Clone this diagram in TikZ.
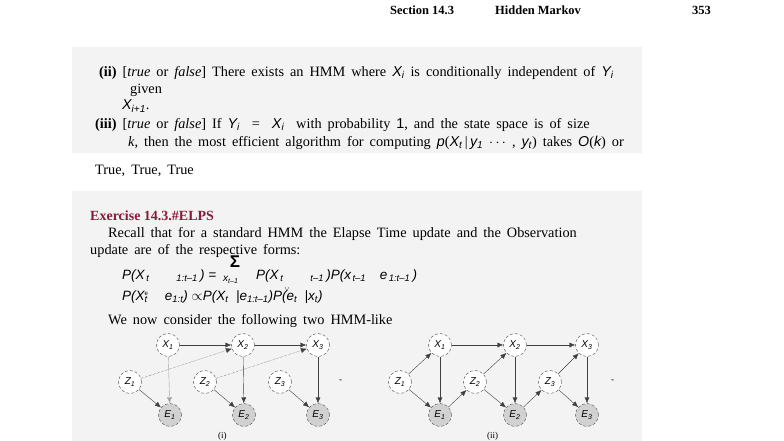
\documentclass[tikz,border=0pt]{standalone}
\usepackage{fontspec}
\setmainfont{Liberation Serif}
\newfontfamily\ms{Liberation Sans}
\usetikzlibrary{arrows.meta}
\definecolor{band}{HTML}{F3F3F3}
\definecolor{exc}{HTML}{8B1A3A}
\newcommand\wsp{\spaceskip=6pt plus 1pt\relax}
\begin{document}
\begin{tikzpicture}[x=1pt,y=-1pt,
  txt/.style={anchor=west,inner sep=0,font=\fontsize{14.3}{16}\selectfont\wsp},
  mth/.style={anchor=west,inner sep=0,font=\fontsize{13.5}{15}\ms\itshape},
  hmm/.style={circle,draw=black!70,densely dashed,fill=white,minimum size=23pt,inner sep=0,font=\fontsize{10}{11}\ms\itshape},
  ev/.style={hmm,fill=black!18},
  arr/.style={-{Latex[length=6pt,width=5pt]},black!75,thin},
  lt/.style={arr,black!35},
  dt/.style={arr,densely dotted}]
\useasboundingbox (0,0) rectangle (784,441);
\fill[band] (72,47) rectangle (642,153);
\fill[band] (72,191) rectangle (642,441);
% header
\node[txt,font=\fontsize{12.5}{13}\bfseries] at (390,10) {Section 14.3};
\node[txt,font=\fontsize{12.5}{13}\bfseries] at (495,10) {Hidden Markov};
\node[txt,font=\fontsize{12.5}{13}\bfseries] at (692,10) {353};
% items
\node[txt] at (99,73) {\textbf{(ii)} [\textit{true} or \textit{false}] There exists an HMM where {\ms\itshape X\textsubscript{i}} is conditionally independent of {\ms\itshape Y\textsubscript{i}}};
\node[txt] at (130,90) {given};
\node[txt] at (122,106) {{\ms\itshape X\textsubscript{i+1}}.};
\node[txt] at (95,125) {\textbf{(iii)} [\textit{true} or \textit{false}] If {\ms\itshape Y\textsubscript{i}}\ \ =\ \ {\ms\itshape X\textsubscript{i}}\ \ with probability {\ms 1}, and the state space is of size};
\node[txt] at (128,143) {\textit{k}, then the most efficient algorithm for computing {\ms\itshape p}({\ms\itshape X\textsubscript{t}}\,|\,{\ms\itshape y\textsubscript{1}} $\cdots$ , {\ms\itshape y\textsubscript{t}}) takes {\ms\itshape O}({\ms\itshape k}) or};
\node[txt] at (95,171) {True, True, True};
% exercise
\node[txt,font=\fontsize{14}{15}\bfseries,text=exc] at (90,216) {Exercise 14.3.\#ELPS};
\node[txt] at (108,234) {Recall that for a standard HMM the Elapse Time update and the Observation};
\node[txt] at (90,251) {update are of the respective forms:};
\node[mth] at (122,276) {P(X\textsubscript{\,t}\qquad\textsubscript{1:t\textendash1}\,) =};
\node[inner sep=0,font=\fontsize{17}{17}\ms\bfseries] at (235,262) {Σ};
\node[mth,font=\fontsize{10}{11}\ms\itshape] at (223,280) {x\textsubscript{t\textendash1}};
\node[mth] at (256,276) {P(X\textsubscript{\,t}\qquad\textsubscript{t\textendash1}\,)P(x\textsubscript{\,t\textendash1}\quad e\textsubscript{\,1:t\textendash1}\,)};
\node[mth] at (122,297) {P(X\textsuperscript{\fontsize{6}{6}\selectfont\upshape e}\hspace{-4pt}\textsubscript{t}\quad\ e\textsubscript{1:t}) $\propto$P(X\textsubscript{t}\ \ |e\textsubscript{1:t\textendash1})P(e\textsubscript{t}\ \ |x\textsubscript{t})};
\node[inner sep=0,font=\fontsize{7}{7}\ms] at (287,290) {$\vee$};
\node[txt] at (108,321) {We now consider the following two HMM-like};
% diagram (i)
\node[hmm] (a1) at (168,345) {X\textsubscript{1}};
\node[hmm] (a2) at (243,345) {X\textsubscript{2}};
\node[hmm] (a3) at (318,345) {X\textsubscript{3}};
\node[hmm] (b1) at (130,382) {Z\textsubscript{1}};
\node[hmm] (b2) at (205,382) {Z\textsubscript{2}};
\node[hmm] (b3) at (280,382) {Z\textsubscript{3}};
\node[ev] (c1) at (170,415) {E\textsubscript{1}};
\node[ev] (c2) at (244,415) {E\textsubscript{2}};
\node[ev] (c3) at (318,415) {E\textsubscript{3}};
\draw[arr] (a1)--(a2); \draw[arr] (a2)--(a3);
\draw[lt] (a1)--(c1); \draw[arr] (a2)--(c2); \draw[arr] (a3)--(c3);
\draw[dt] (b1)--(a2); \draw[dt] (b2)--(a3);
\draw[arr] (b1)--(c1); \draw[arr] (b2)--(c2); \draw[arr] (b3)--(c3);
\node[txt,font=\fontsize{9}{10}\selectfont] at (218,436) {(i)};
\node[txt,font=\fontsize{9}{10}\selectfont] at (339,381) {-};
% diagram (ii)
\node[hmm] (d1) at (440,345) {X\textsubscript{1}};
\node[hmm] (d2) at (515,345) {X\textsubscript{2}};
\node[hmm] (d3) at (587,345) {X\textsubscript{3}};
\node[hmm] (e1) at (400,382) {Z\textsubscript{1}};
\node[hmm] (e2) at (475,382) {Z\textsubscript{2}};
\node[hmm] (e3) at (550,382) {Z\textsubscript{3}};
\node[ev] (f1) at (440,415) {E\textsubscript{1}};
\node[ev] (f2) at (515,415) {E\textsubscript{2}};
\node[ev] (f3) at (587,415) {E\textsubscript{3}};
\draw[arr] (d1)--(d2); \draw[arr] (d2)--(d3);
\draw[arr] (d1)--(f1); \draw[arr] (d2)--(f2); \draw[arr] (d3)--(f3);
\draw[arr] (e1)--(d1); \draw[arr] (e2)--(d2); \draw[arr] (e3)--(d3);
\draw[arr] (e1)--(f1); \draw[arr] (e2)--(f2); \draw[arr] (e3)--(f3);
\draw[arr] (f1)--(e2); \draw[arr] (f2)--(e3);
\node[txt,font=\fontsize{9}{10}\selectfont] at (487,436) {(ii)};
\node[txt,font=\fontsize{9}{10}\selectfont] at (611,381) {-};
\end{tikzpicture}
\end{document}
